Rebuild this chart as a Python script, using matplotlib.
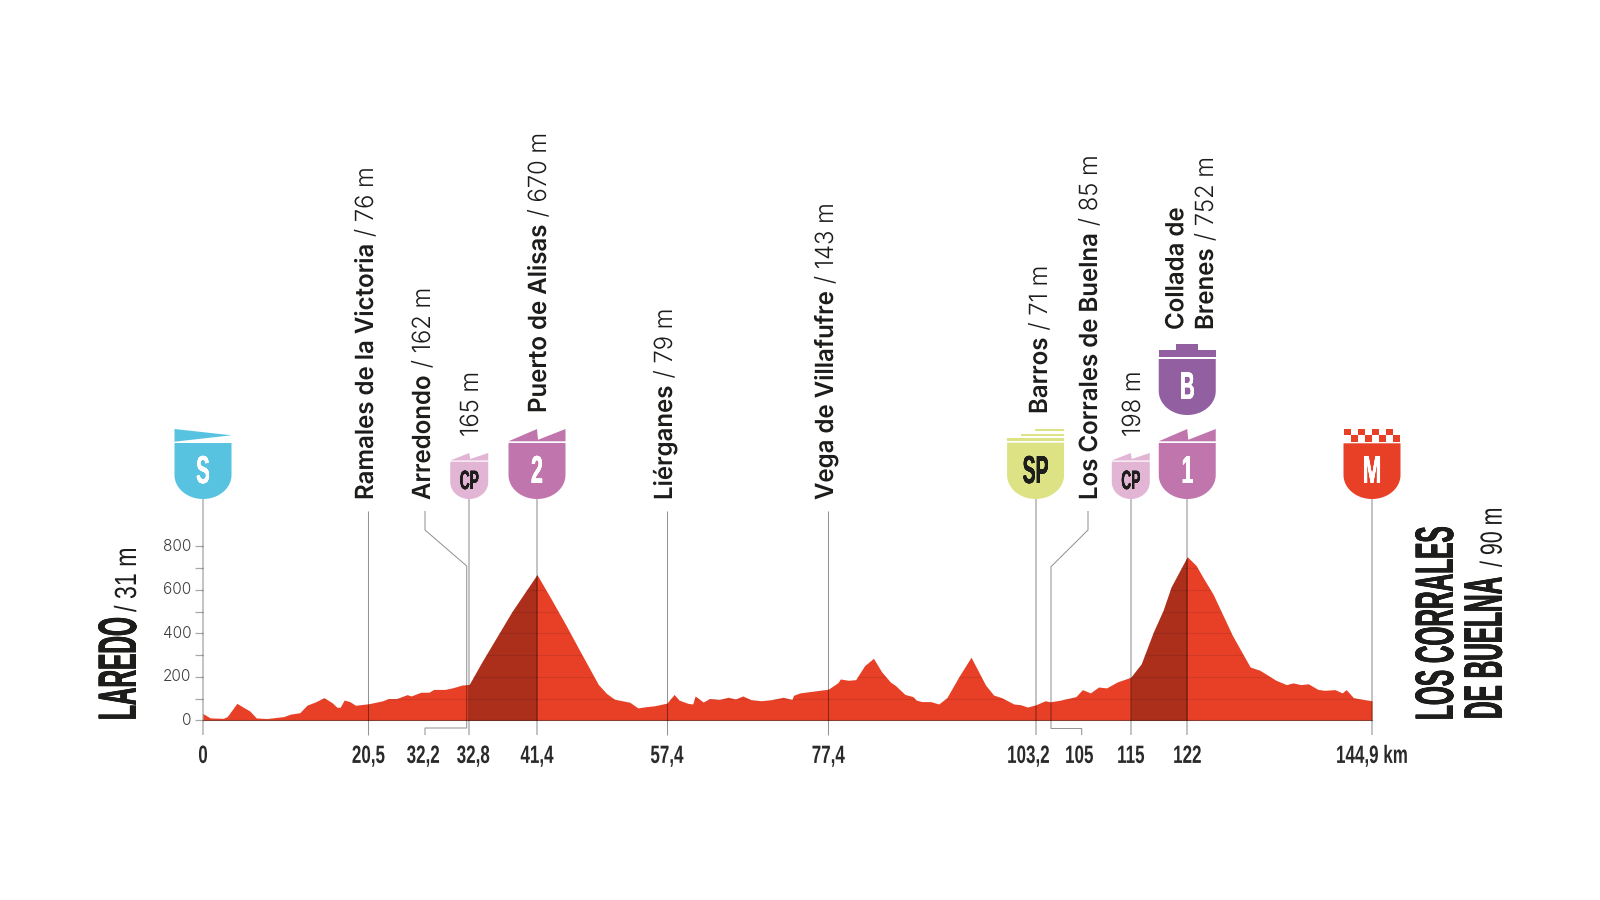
import numpy as np
import matplotlib
matplotlib.use('Agg')
import matplotlib.pyplot as plt
from matplotlib.patches import Polygon, Rectangle
from matplotlib.patheffects import AbstractPathEffect
from matplotlib.transforms import Affine2D

# profile
KM = [0, 0.9, 2.5, 3, 4.2, 5, 5.8, 6.6, 7.9, 10, 10.8, 12, 12.9, 13.9, 15, 16, 16.6, 17, 17.5, 18.2,
      18.9, 20.5, 22.2, 23, 24, 25.3, 25.8, 27, 28, 28.6, 30, 31, 32.1, 33, 34.6, 38.3, 41.4, 43.2,
      45.1, 46.7, 49, 50, 51, 52.9, 53.9, 55, 56, 57.5, 58.4, 59, 60.1, 60.7, 61, 62, 62.8, 64, 65.1,
      66, 66.9, 67.9, 69.2, 70.5, 71.9, 73, 73.2, 74, 77.5, 78.7, 79, 80, 80.9, 82, 83.1, 84.1, 85.2,
      85.8, 87, 88, 88.4, 89.1, 90.2, 91.2, 92.2, 93.7, 95.2, 97, 98, 99, 100.5, 101.3, 102.2, 103.2,
      104.4, 105, 106.2, 108.2, 109, 110, 111, 112, 113.3, 115, 116.3, 117.8, 119, 120, 122, 123.1,
      123.9, 125.2, 127.6, 129.8, 131, 133, 134.3, 135.1, 136.1, 137, 138.2, 139, 140.3, 141.2, 141.7,
      142.6, 143.8, 144.9]
ELEV = [31, 11, 9, 17, 78, 60, 43, 11, 8, 17, 28, 35, 70, 84, 104, 81, 60, 60, 93, 86,
        69, 76, 89, 100, 100, 118, 112, 129, 129, 142, 142, 150, 162, 165, 270, 500, 670, 555,
        430, 320, 165, 124, 97, 83, 57, 63, 67, 79, 119, 93, 78, 75, 112, 84, 100, 96, 106,
        98, 112, 95, 90, 95, 106, 96, 115, 126, 143, 173, 190, 184, 187, 251, 285, 224, 176,
        161, 119, 109, 93, 86, 86, 75, 104, 201, 290, 162, 116, 104, 75, 72, 61, 71,
        90, 85, 92, 109, 141, 126, 153, 149, 176, 198, 260, 406, 505, 613, 752, 712,
        660, 580, 390, 245, 230, 184, 164, 172, 164, 168, 142, 138, 141, 126, 141,
        104, 96, 90]

CLIMBS = [(33, 41.4), (115, 122)]

TICK_LABELS = ['0', '20,5', '32,2', '32,8', '41,4', '57,4', '77,4', '103,2', '105', '115', '122', '144,9 km']
TICK_LABEL_KM = [0, 20.5, 27.3, 33.5, 41.4, 57.5, 77.5, 102.3, 108.6, 115, 122, 144.9]
THIN_MARK_KM = [20.5, 57.5, 77.5]

PLACE_NAMES = ['Ramales de la Victoria', 'Arredondo', None, 'Puerto de Alisas', 'Liérganes',
               'Vega de Villafufre', 'Barros', 'Los Corrales de Buelna', None, 'Brenes']
PLACE_HEIGHTS = ['/ 76 m', '/ 162 m', '165 m', '/ 670 m', '/ 79 m', '/ 143 m', '/ 71 m', '/ 85 m', '198 m', '/ 752 m']
PLACE_BASE_X = [373, 430, 478, 546, 672, 833, 1047, 1097, 1140, 1213]
PLACE_BASE_Y = [500, 500, 437, 413, 500, 500, 414, 500, 437, 330]

RED = '#e84027'
BLUE = '#58c3e1'
MAUVE = '#c076ad'
PINK = '#e2b5d5'
PURPLE = '#925fa0'
LIME = '#dde384'
INK = '#1d1d1b'
BOLD = 'Liberation Sans'

X0, X1 = 203, 1372
Y0, Y800 = 720.3, 546.3


def km_px(km):
    return X0 + km * (X1 - X0) / 144.9


class Condensed(AbstractPathEffect):
    # squeeze glyphs along the baseline, optionally fattening the stems back up
    def __init__(self, squeeze, fatten=0, centred=False):
        super().__init__()
        self.squeeze = squeeze
        self.fatten = fatten
        self.centred = centred

    def draw_path(self, renderer, gc, tpath, affine, rgbFace=None):
        ext = tpath.get_extents()
        mid = (ext.x0 + ext.x1) / 2 if self.centred else 0
        for dx in np.linspace(-self.fatten, self.fatten, 5 if self.fatten else 1):
            squeezed = Affine2D().translate(-mid, 0).scale(self.squeeze, 1).translate(mid + dx, 0)
            renderer.draw_path(gc, tpath, squeezed + affine, rgbFace)


fig = plt.figure(figsize=(16, 9), dpi=100, facecolor='white')
ax = fig.add_axes([X0 / 1600, 1 - Y0 / 900, (X1 - X0) / 1600, (Y0 - Y800) / 900])
ax.set_xlim(0, 144.9)
ax.set_ylim(0, 800)
ax.patch.set_visible(False)
for s in ax.spines.values():
    s.set_visible(False)

km = np.array(KM)
elev = np.array(ELEV)
profile = ax.fill_between(km, 0, elev, color=RED, lw=0, zorder=1)
for a, b in CLIMBS:
    ax.fill_between(km, 0, elev, where=(km >= a) & (km <= b), color='black', alpha=0.26, lw=0, zorder=2)

# faint levels only inside the profile
for level in range(100, 800, 100):
    ln = ax.axhline(level, color='black', alpha=0.1, lw=0.9, zorder=3)
    ln.set_clip_path(profile.get_paths()[0], ax.transData)
ax.axhline(0, color='black', alpha=0.4, lw=0.8, zorder=3, clip_on=False)

ax.set_yticks(range(0, 801, 200))
ax.set_yticks(range(100, 800, 200), minor=True)
ax.tick_params(axis='y', which='both', length=5.8, width=0.9, color='#a8a8a8', pad=2.5)
ax.tick_params(axis='y', labelsize=11, labelcolor='#3c3c3c')
for t in ax.get_yticklabels():
    t.set_family('Inter')
    t.set_weight(300)
    t.set_verticalalignment('center')

ax.set_xticks(TICK_LABEL_KM)
ax.set_xticklabels(TICK_LABELS, family=BOLD, weight='bold', fontsize=18, color='#2a2a2a')
ax.tick_params(axis='x', length=0, pad=17)
for t in ax.get_xticklabels():
    t.set_path_effects([Condensed(0.68, centred=True)])

# overlay in picture pixels for the shields and the leaders
ov = fig.add_axes([0, 0, 1, 1], zorder=5)
ov.set_xlim(0, 1600)
ov.set_ylim(900, 0)
ov.axis('off')


def grey_line(xs, ys, thin=False):
    ov.plot(xs, ys, color='black', alpha=0.42 if thin else 0.3, lw=0.75 if thin else 1.1, solid_capstyle='butt',
            solid_joinstyle='miter')


def shield(cx, top, bottom, width, color, letter, letter_base, size, squeeze, text_color='white', arc=24):
    t = np.linspace(0, np.pi, 60)
    bend = bottom - arc
    outline = [(cx - width / 2, top), (cx + width / 2, top)]
    outline += list(zip(cx + width / 2 * np.cos(t), bend + arc * np.sin(t)))
    ov.add_patch(Polygon(outline, closed=True, fc=color, lw=0))
    ov.text(cx, letter_base, letter, family=BOLD, weight='bold', fontsize=size, color=text_color,
            ha='center', va='baseline', path_effects=[Condensed(squeeze, fatten=0.4, centred=True)])


def ramps(cx, top, bottom, width, color):
    h = width / 2
    ov.add_patch(Polygon([(cx - h, bottom), (cx, top), (cx + 1, bottom - 1.5), (cx + h, top), (cx + h, bottom)],
                         closed=True, fc=color, lw=0))


def mark_line(km_at, top):
    x = km_px(km_at)
    grey_line([x, x], [top, 735])
    return x


# start
x = mark_line(0, 499)
shield(x, 443, 499, 57, BLUE, 'S', 483, 28, 0.52)
ov.add_patch(Polygon([(x - 28.5, 429), (x + 28.5, 435.3), (x - 28.5, 441.7)], closed=True, fc=BLUE, lw=0))

# cat. climbs and checkpoints
x = mark_line(33, 499)
shield(x, 461.7, 499, 38, PINK, 'CP', 489, 19, 0.52, text_color=INK, arc=17)
ramps(x, 453, 460.5, 38, PINK)
x = mark_line(41.4, 499)
shield(x, 443, 499, 57, MAUVE, '2', 483, 28, 0.55)
ramps(x, 429, 441.3, 57, MAUVE)
x = mark_line(115, 499)
shield(x, 461.7, 499, 38, PINK, 'CP', 489, 19, 0.52, text_color=INK, arc=17)
ramps(x, 453, 460.5, 38, PINK)
x = mark_line(122, 499)
shield(x, 443, 499, 57, MAUVE, '1', 483, 28, 0.55)
ramps(x, 429, 441.3, 57, MAUVE)

# bonus
shield(x, 359, 415, 57, PURPLE, 'B', 399, 28, 0.52)
ov.add_patch(Rectangle((x - 28.5, 350), 57, 6.7, fc=PURPLE, lw=0))
ov.add_patch(Rectangle((x - 11, 344), 22, 7, fc=PURPLE, lw=0))

# sprint
x = mark_line(103.2, 499)
shield(x, 442.7, 499, 57, LIME, 'SP', 483, 28, 0.5, text_color=INK)
for left, y_bar in [(0, 438.3), (14, 433.7), (28, 429)]:
    ov.add_patch(Rectangle((x - 28.5 + left, y_bar), 57 - left, 2.3, fc=LIME, lw=0))

# finish
x = mark_line(144.9, 499)
shield(x, 443.3, 499, 57, RED, 'M', 483, 28, 0.58)
for i in range(4):
    ov.add_patch(Rectangle((x - 28.5 + i * 14.1, 429), 7, 6, fc=RED, lw=0))
    ov.add_patch(Rectangle((x - 21.5 + i * 14.1, 435), 7, 6.7, fc=RED, lw=0))

for k in THIN_MARK_KM:
    x = km_px(k)
    grey_line([x, x], [511, 735], thin=True)

# the two displaced leaders
grey_line([425, 425, 466.7, 466.7, 425, 425], [735, 728, 728, 566, 530, 511], thin=True)
grey_line([1081.7, 1081.7, 1051, 1051, 1088, 1088], [735, 728.5, 728.5, 566.7, 530, 511], thin=True)

# vertical labels
renderer = fig.canvas.get_renderer()
NAME_SQUEEZE = 0.96
for name, height, bx, by in zip(PLACE_NAMES, PLACE_HEIGHTS, PLACE_BASE_X, PLACE_BASE_Y):
    y = by
    if name:
        txt = ov.text(bx, y, name, family='Inter', weight=600, fontsize=18, color=INK, rotation=90,
                      ha='left', va='baseline', rotation_mode='anchor', path_effects=[Condensed(NAME_SQUEEZE)])
        y -= txt.get_window_extent(renderer).height * NAME_SQUEEZE + 7
    ov.text(bx, y, height, family='Inter', weight=300, fontsize=18, color=INK, rotation=90,
            ha='left', va='baseline', rotation_mode='anchor', path_effects=[Condensed(0.95)])
ov.text(1183.3, 330, 'Collada de', family='Inter', weight=600, fontsize=18, color=INK, rotation=90,
        ha='left', va='baseline', rotation_mode='anchor', path_effects=[Condensed(NAME_SQUEEZE)])


def big(x, y, s, size=39, squeeze=0.45, weight='bold', fatten=0.7):
    ov.text(x, y, s, family=BOLD, weight=weight, fontsize=size, color=INK, rotation=90, ha='left', va='baseline',
            rotation_mode='anchor', path_effects=[Condensed(squeeze, fatten=fatten)])


big(136, 720, 'LAREDO')
big(136, 612, '/ 31 m', size=22, squeeze=0.76, weight='normal', fatten=0)
big(1453, 720, 'LOS CORRALES')
big(1501.7, 719, 'DE BUELNA')
big(1501.7, 567, '/ 90 m', size=22, squeeze=0.7, weight='normal', fatten=0)

fig.savefig('out.png', dpi=100)
